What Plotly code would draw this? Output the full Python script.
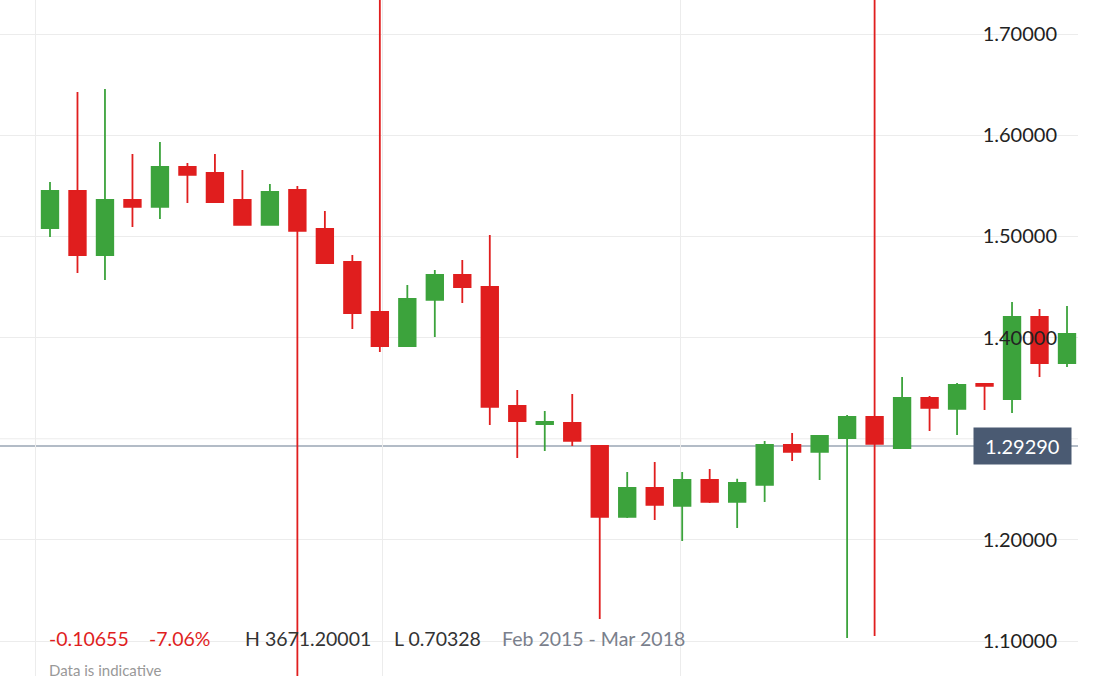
import plotly.graph_objects as go

idx = list(range(38))
opens = [1.5083,1.5449,1.4816,1.5360,1.5291,1.5686,1.5627,1.5360,1.5113,1.5459,
         1.5073,1.4747,1.4253,1.3917,1.4372,1.4619,1.4500,1.3325,1.3146,1.3156,
         1.2929,1.2228,1.2514,1.2337,1.2594,1.2376,1.2544,1.2939,1.2870,1.3008,
         1.3216,1.2909,1.3404,1.3295,1.3542,1.3393,1.4204,1.3749]
highs = [1.5538,1.6427,1.6457,1.5814,1.5933,1.5725,1.5814,1.5656,1.5518,1.5498,
         1.5251,1.4816,3671.20001,1.4520,1.4668,1.4767,1.5014,1.3483,1.3275,1.3443,
         1.2929,1.2673,1.2771,1.2673,1.2702,1.2604,1.2979,1.3058,1.3038,1.3236,
         3671.20001,1.3611,1.3423,1.3552,1.3542,1.4352,1.4283,1.4312]
lows = [1.4994,1.4638,1.4569,1.5093,1.5172,1.5330,1.5330,1.5113,1.5113,0.70328,
        1.4737,1.4085,1.3858,1.3907,1.4006,1.4342,1.3137,1.2811,1.2880,1.2929,
        1.1220,1.2218,1.2198,1.1991,1.2366,1.2119,1.2376,1.2781,1.2594,1.1032,
        1.1052,1.2909,1.3077,1.3038,1.3285,1.3255,1.3611,1.3709]
closes = [1.5449,1.4816,1.5360,1.5291,1.5686,1.5607,1.5340,1.5113,1.5439,1.5054,
          1.4737,1.4243,1.3917,1.4382,1.4619,1.4500,1.3315,1.3176,1.3166,1.2979,
          1.2228,1.2514,1.2347,1.2594,1.2376,1.2564,1.2939,1.2870,1.3028,1.3216,
          1.2949,1.3404,1.3305,1.3532,1.3522,1.4204,1.3749,1.4036]
current = 1.29290
y_ticks = [1.1, 1.2, 1.4, 1.5, 1.6, 1.7]
y_grid_all = [1.1, 1.2, 1.3, 1.4, 1.5, 1.6, 1.7]
x_grid = [-0.51, 12.11, 22.95, 37.4]

GREEN = "#3ca33c"
RED = "#e01e1e"

fig = go.Figure()
fig.add_trace(go.Candlestick(
    x=idx, open=opens, high=highs, low=lows, close=closes,
    increasing=dict(line=dict(color=GREEN, width=1.8), fillcolor=GREEN),
    decreasing=dict(line=dict(color=RED, width=1.8), fillcolor=RED),
    whiskerwidth=0, showlegend=False))

fig.add_hline(y=current, line=dict(color="#9aa6b4", width=1.5), layer="below")

fig.update_layout(
    width=1116, height=676, margin=dict(l=0, r=38, t=0, b=0),
    paper_bgcolor="white", plot_bgcolor="white", boxgap=0.14,
    xaxis=dict(range=[-1.819, 37.4], rangeslider=dict(visible=False),
               tickvals=x_grid, showticklabels=False, showgrid=True,
               gridcolor="#ececec", zeroline=False),
    yaxis=dict(range=[1.0656, 1.7336], side="right", tickvals=y_ticks,
               tickformat=".5f", ticklabelposition="inside", ticklabelstandoff=18,
               tickfont=dict(family="Lato", size=20, color="#222"),
               showgrid=True, gridcolor="#ececec", zeroline=False),
    font=dict(family="Lato"),
)
for g in y_grid_all:
    if g not in y_ticks:
        fig.add_hline(y=g, line=dict(color="#ececec", width=1), layer="below")

fig.add_annotation(x=1.0, y=current, xref="paper", yref="y", xanchor="right",
                   text="&nbsp;1.29290&nbsp;", showarrow=False, bgcolor="#4a5a72",
                   font=dict(color="white", size=20, family="Lato"),
                   borderpad=6, xshift=-6)

texts = [("-0.10655", 47, RED), ("-7.06%", 147, RED), ("H 3671.20001", 243, "#333"),
         ("L 0.70328", 392, "#333"), ("Feb 2015 - Mar 2018", 500, "#7a7f8c")]
for t, px, c in texts:
    fig.add_annotation(x=px/1078, y=1-638/676, xref="paper", yref="paper",
                       xanchor="left", yanchor="middle", text=t, showarrow=False,
                       font=dict(color=c, size=19.5, family="Lato"))
fig.add_annotation(x=47/1078, y=1-670/676, xref="paper", yref="paper",
                   xanchor="left", yanchor="middle", text="Data is indicative",
                   showarrow=False, font=dict(color="#999", size=15, family="Lato"))

fig.write_html("out.html", config={"displayModeBar": False},
               post_script="document.body.style.margin='0';document.body.style.overflow='hidden';")
